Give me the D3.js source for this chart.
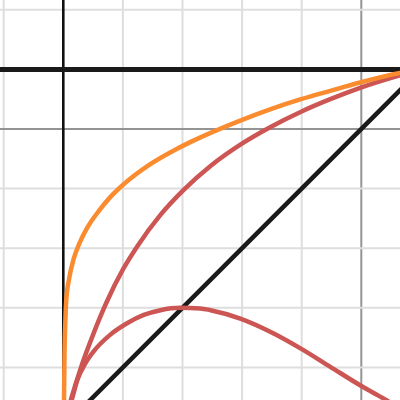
<!DOCTYPE html>
<html>
<head>
<meta charset="utf-8">
<script src="https://cdn.jsdelivr.net/npm/d3@7"></script>
<style>
  html, body { margin: 0; padding: 0; background: #fff; }
  svg { display: block; }
</style>
</head>
<body>
<div id="graph"></div>
<script>
// points, in graph units [x, y]
var orangeCurve = [[0, 0], [0.012, 0.45], [0.02, 1.2], [0.035, 1.8], [0.05, 2.13], [0.10, 2.50], [0.18, 2.84], [0.27, 3.08], [0.40, 3.34], [0.60, 3.63], [0.80, 3.87], [1.01, 4.07], [1.46, 4.41], [1.91, 4.67], [2.13, 4.78], [2.99, 5.15], [3.47, 5.33], [3.99, 5.50], [4.48, 5.64], [4.98, 5.78], [5.65, 5.94], [6, 6]];
var redUpperCurve = [[0, 0], [0.14, 0.50], [0.29, 0.98], [0.50, 1.55], [0.72, 2.08], [1.01, 2.66], [1.24, 3.03], [1.63, 3.56], [2.02, 3.98], [2.47, 4.38], [2.99, 4.75], [3.47, 5.03], [3.99, 5.29], [4.48, 5.50], [4.98, 5.69], [5.65, 5.90], [6, 6]];
var redLowerCurve = [[0, 0], [0.14, 0.45], [0.24, 0.80], [0.36, 1.05], [0.51, 1.27], [0.79, 1.55], [1.07, 1.74], [1.35, 1.88], [1.63, 1.96], [1.96, 2.00], [2.30, 1.99], [2.47, 1.96], [2.97, 1.82], [3.53, 1.57], [3.98, 1.32], [4.48, 1.01], [4.98, 0.70], [5.37, 0.48], [5.6, 0.34]];
var diagonalLine = [[-1, -1], [7, 7]];
var horizontalLevel = 6;
var majorStep = 5;

var width = 400, height = 400;
var unit = 59.6, originX = 63.3, originY = 427;

var x = d3.scaleLinear().domain([-originX / unit, (width - originX) / unit]).range([0, width]);
var y = d3.scaleLinear().domain([(originY - height) / unit, originY / unit]).range([height, 0]);

var svg = d3.select('#graph').append('svg').attr('width', width).attr('height', height);

var xs = d3.range(Math.ceil(x.domain()[0]), Math.floor(x.domain()[1]) + 1);
var ys = d3.range(Math.ceil(y.domain()[0]), Math.floor(y.domain()[1]) + 1);
var isMajor = function(v) { return v !== 0 && v % majorStep === 0; };

var grid = svg.append('g');
grid.selectAll('.gx').data(xs.filter(function(v) { return v !== 0; })).enter().append('line')
  .attr('x1', function(d) { return x(d); }).attr('x2', function(d) { return x(d); })
  .attr('y1', 0).attr('y2', height)
  .attr('stroke', function(d) { return isMajor(d) ? '#949494' : '#dedede'; })
  .attr('stroke-width', 2);
grid.selectAll('.gy').data(ys.filter(function(v) { return v !== 0; })).enter().append('line')
  .attr('y1', function(d) { return y(d); }).attr('y2', function(d) { return y(d); })
  .attr('x1', 0).attr('x2', width)
  .attr('stroke', function(d) { return isMajor(d) ? '#949494' : '#dedede'; })
  .attr('stroke-width', 2);

// y axis (x = 0)
svg.append('line').attr('x1', x(0)).attr('x2', x(0)).attr('y1', 0).attr('y2', height)
  .attr('stroke', '#111').attr('stroke-width', 2.6);

var line = d3.line().x(function(d) { return x(d[0]); }).y(function(d) { return y(d[1]); }).curve(d3.curveMonotoneX);

var drawCurve = function(data, color, w) {
  return svg.append('path').datum(data).attr('d', line)
    .attr('fill', 'none').attr('stroke', color).attr('stroke-width', w)
    .attr('stroke-linecap', 'round').attr('stroke-linejoin', 'round');
};

svg.append('line').attr('x1', 0).attr('x2', width).attr('y1', y(horizontalLevel)).attr('y2', y(horizontalLevel))
  .attr('stroke', '#1a1a1a').attr('stroke-width', 5);
drawCurve(diagonalLine, '#1a1a1a', 4.5);
drawCurve(redLowerCurve, '#cc5653', 4.5);
drawCurve(redUpperCurve, '#cc5653', 4.5);
drawCurve(orangeCurve, '#fa8b2f', 4.5);
</script>
</body>
</html>
